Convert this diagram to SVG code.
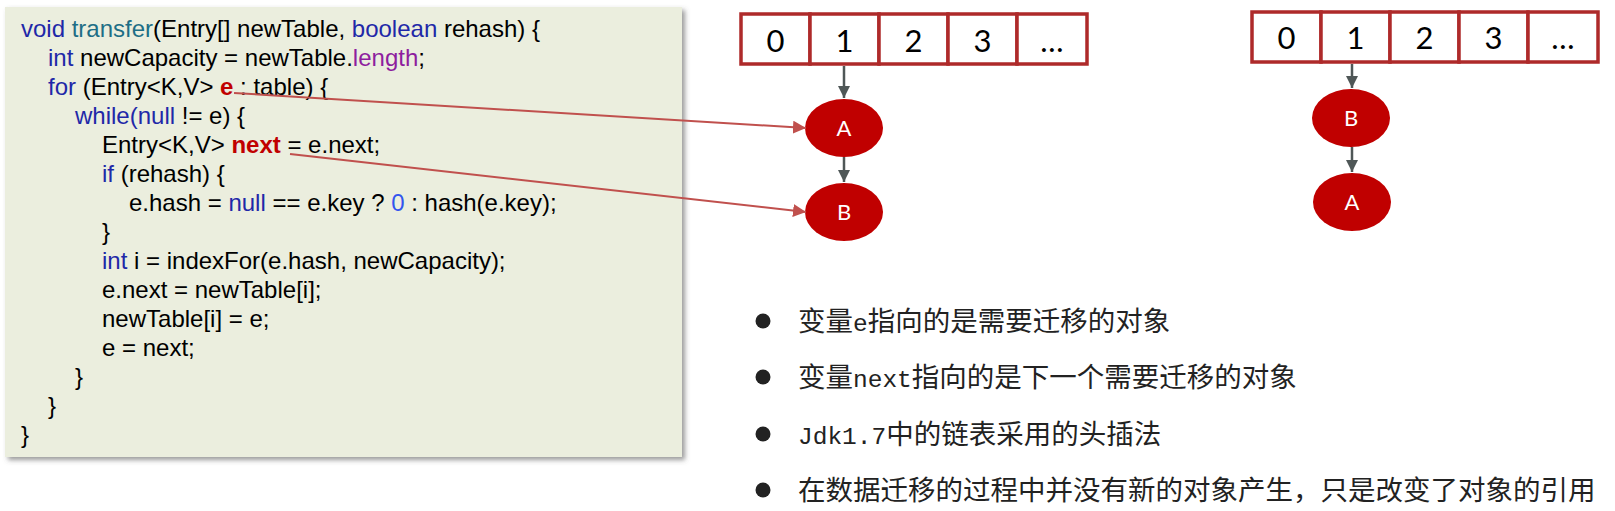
<svg xmlns="http://www.w3.org/2000/svg" width="1615" height="511" viewBox="0 0 1615 511">
<style>
.code{font-family:"Liberation Sans",Arial,sans-serif;font-size:24px;fill:#000}
.kw{fill:#1F28A8}
.fn{fill:#1E6E86}
.pr{fill:#8E1E9E}
.num{fill:#3355EE}
.hl{fill:#C00000;font-weight:bold}
.cell{fill:#fff;stroke:#AE2A2A;stroke-width:3.5}
.idx{font-family:Lato,"Liberation Sans",sans-serif;font-size:31px;fill:#000;text-anchor:middle}
.node{fill:#C00000}
.lbl{font-family:Lato,"Liberation Sans",sans-serif;font-size:22px;fill:#fff;text-anchor:middle}
.gl{stroke:#4F5757;stroke-width:2.5;fill:none}
.rl{stroke:#C0504D;stroke-width:2;fill:none}
.bt{font-family:"Noto Sans CJK SC",sans-serif;font-size:27.5px;fill:#222}
.lt{font-family:"Liberation Mono",monospace;font-size:24.5px}
</style>
<defs>
<filter id="sh" x="-5%" y="-5%" width="115%" height="115%">
<feDropShadow dx="3" dy="3" stdDeviation="2.5" flood-color="#555" flood-opacity="0.6"/>
</filter>
<marker id="ag" viewBox="0 0 10 10" refX="10" refY="5" markerWidth="5" markerHeight="5" markerUnits="strokeWidth" orient="auto">
<path d="M0,0 L10,5 L0,10 z" fill="#4F5757"/>
</marker>
<marker id="ar" viewBox="0 0 10 10" refX="10" refY="5" markerWidth="6.5" markerHeight="6.5" markerUnits="strokeWidth" orient="auto">
<path d="M0,0 L10,5 L0,10 z" fill="#C0504D"/>
</marker>
</defs>

<g id="code">
<rect x="5" y="7" width="677" height="450" fill="#EBEEDE" filter="url(#sh)"/>
<text class="code" x="21" y="37"><tspan class="kw">void</tspan> <tspan class="fn">transfer</tspan>(Entry[] newTable, <tspan class="kw">boolean</tspan> rehash) {</text>
<text class="code" x="48" y="66"><tspan class="kw">int</tspan> newCapacity = newTable.<tspan class="pr">length</tspan>;</text>
<text class="code" x="48" y="95"><tspan class="kw">for</tspan> (Entry&lt;K,V&gt; <tspan class="hl">e</tspan> : table) {</text>
<text class="code" x="75" y="124"><tspan class="kw">while(null</tspan> != e) {</text>
<text class="code" x="102" y="153">Entry&lt;K,V&gt; <tspan class="hl">next</tspan> = e.next;</text>
<text class="code" x="102" y="182"><tspan class="kw">if</tspan> (rehash) {</text>
<text class="code" x="129" y="211">e.hash = <tspan class="kw">null</tspan> == e.key ? <tspan class="num">0</tspan> : hash(e.key);</text>
<text class="code" x="102" y="240">}</text>
<text class="code" x="102" y="269"><tspan class="kw">int</tspan> i = indexFor(e.hash, newCapacity);</text>
<text class="code" x="102" y="298">e.next = newTable[i];</text>
<text class="code" x="102" y="327">newTable[i] = e;</text>
<text class="code" x="102" y="356">e = next;</text>
<text class="code" x="75" y="385">}</text>
<text class="code" x="48" y="414">}</text>
<text class="code" x="21" y="443">}</text>
</g>

<g id="table1">
<rect class="cell" x="741" y="14" width="69" height="50"/>
<rect class="cell" x="810" y="14" width="69" height="50"/>
<rect class="cell" x="879" y="14" width="69" height="50"/>
<rect class="cell" x="948" y="14" width="69" height="50"/>
<rect class="cell" x="1017" y="14" width="70" height="50"/>
<text class="idx" x="775.5" y="52">0</text>
<text class="idx" x="844.5" y="52">1</text>
<text class="idx" x="913.5" y="52">2</text>
<text class="idx" x="982.5" y="52">3</text>
<text class="idx" x="1052" y="52">…</text>
</g>
<g id="nodeA1">
<ellipse class="node" cx="844" cy="128" rx="39" ry="29"/>
<text class="lbl" x="844" y="136">A</text>
</g>
<g id="nodeB1">
<ellipse class="node" cx="844" cy="212" rx="39" ry="29"/>
<text class="lbl" x="844" y="220">B</text>
</g>

<g id="table2">
<rect class="cell" x="1252" y="12" width="69" height="50"/>
<rect class="cell" x="1321" y="12" width="69" height="50"/>
<rect class="cell" x="1390" y="12" width="69" height="50"/>
<rect class="cell" x="1459" y="12" width="69" height="50"/>
<rect class="cell" x="1528" y="12" width="70" height="50"/>
<text class="idx" x="1286.5" y="49">0</text>
<text class="idx" x="1355.5" y="49">1</text>
<text class="idx" x="1424.5" y="49">2</text>
<text class="idx" x="1493.5" y="49">3</text>
<text class="idx" x="1563" y="49">…</text>
</g>
<g id="nodeB2">
<ellipse class="node" cx="1351" cy="118" rx="39" ry="29"/>
<text class="lbl" x="1351" y="126">B</text>
</g>
<g id="nodeA2">
<ellipse class="node" cx="1352" cy="202" rx="39" ry="29"/>
<text class="lbl" x="1352" y="210">A</text>
</g>

<g id="connectors">
<line class="gl" x1="844" y1="66" x2="844" y2="98" marker-end="url(#ag)"/>
<line class="gl" x1="844" y1="157" x2="844" y2="182" marker-end="url(#ag)"/>
<line class="gl" x1="1352" y1="64" x2="1352" y2="88" marker-end="url(#ag)"/>
<line class="gl" x1="1352" y1="147" x2="1352" y2="172" marker-end="url(#ag)"/>
<line class="rl" x1="234" y1="93" x2="806" y2="128" marker-end="url(#ar)"/>
<line class="rl" x1="290" y1="154" x2="806" y2="212" marker-end="url(#ar)"/>
</g>

<g id="bullets">
<circle cx="763" cy="321" r="7.5" fill="#222"/>
<circle cx="763" cy="377" r="7.5" fill="#222"/>
<circle cx="763" cy="434" r="7.5" fill="#222"/>
<circle cx="763" cy="490" r="7.5" fill="#222"/>
<text class="bt" x="798" y="331">变量<tspan class="lt">e</tspan>指向的是需要迁移的对象</text>
<text class="bt" x="798" y="387">变量<tspan class="lt">next</tspan>指向的是下一个需要迁移的对象</text>
<text class="bt" x="798" y="444"><tspan class="lt">Jdk1.7</tspan>中的链表采用的头插法</text>
<text class="bt" x="798" y="500">在数据迁移的过程中并没有新的对象产生，只是改变了对象的引用</text>
</g>
</svg>
